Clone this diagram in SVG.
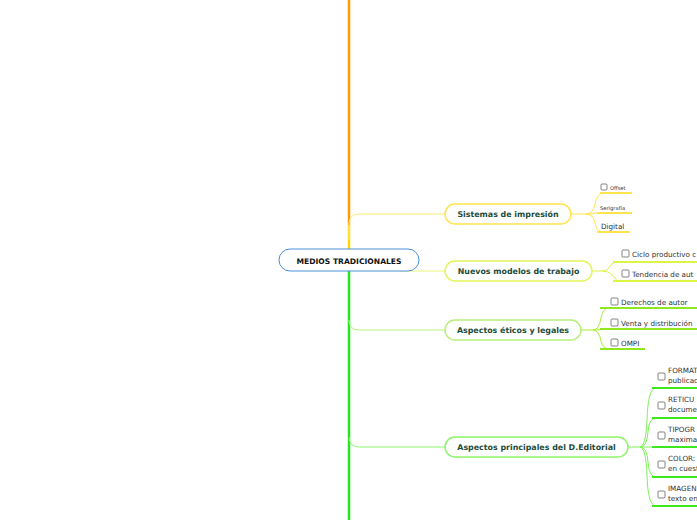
<svg xmlns="http://www.w3.org/2000/svg" width="697" height="520" viewBox="0 0 697 520">
<style>
text{font-family:"DejaVu Sans",Verdana,sans-serif}
.n{font-size:7.9px;font-weight:bold;fill:#1e4d3c;text-anchor:middle}
.c{font-size:7.2px;fill:#333}
.s{font-size:5.2px;fill:#333}
.cb{fill:#fff;stroke:#666;stroke-width:0.8}
.b{fill:#fff;stroke-width:1.5}
</style>
<rect width="697" height="520" fill="#fff"/>
<g id="connectors" fill="none">
<path d="M349 0V225" stroke="#ff9a00" stroke-width="2.5"/>
<path d="M349 225V249" stroke="#ffd700" stroke-width="2.5"/>
<path d="M349 271V520" stroke="#22e61e" stroke-width="2.5"/>
<path d="M349 240V224Q349 214 359 214H445" stroke="#ffe970" stroke-width="1"/>
<path d="M400 271H445" stroke="#eaf57a" stroke-width="1"/>
<path d="M349 320Q349 330 359 330H445" stroke="#b6f07a" stroke-width="1"/>
<path d="M349 437Q349 447 359 447H445" stroke="#8ef56a" stroke-width="1"/>
<g stroke="#ffe34d" stroke-width="1">
<path d="M571 214H586Q593 214 595 204Q597 193 604 193"/>
<path d="M586 214Q593 214 597 213"/>
<path d="M586 214Q593 214 595 223Q597 232 604 232"/>
</g>
<path d="M600 193H632M597 213H632M597 232H630" stroke="#ffe34d" stroke-width="2"/>
<g stroke="#dcf542" stroke-width="1">
<path d="M592 271H602Q608 271 610 266Q612 262 617 262"/>
<path d="M602 271Q612 271 617 281"/>
</g>
<path d="M613 262H697M613 281H697" stroke="#dcf542" stroke-width="2"/>
<g stroke="#a6ef2f" stroke-width="1">
<path d="M581 330H593Q599 330 601 318Q603 308 609 308"/>
<path d="M593 330Q601 330 606 329"/>
<path d="M593 330Q599 330 601 341Q603 349 609 349"/>
</g>
<path d="M600 308H697M600 329H697M600 349H645" stroke="#8fe81e" stroke-width="2"/>
<g stroke="#7ef05a" stroke-width="1">
<path d="M628 447H640Q646 447 647 420Q648 388 656 388"/>
<path d="M640 447Q647 447 648 432Q649 418 656 418"/>
<path d="M640 447H656"/>
<path d="M640 447Q647 447 648 462Q649 477 656 477"/>
<path d="M640 447Q646 447 647 476Q648 506 656 506"/>
</g>
<path d="M652 388H697M652 418H697M652 447H697M652 477H697M652 506H697" stroke="#3ee81e" stroke-width="2"/>
</g>
<g id="central">
<rect x="279" y="249" width="140" height="22" rx="11" fill="#fff" stroke="#4a90d9" stroke-width="1"/>
<text x="349" y="263.5" class="n" style="fill:#111;font-size:7.6px">MEDIOS TRADICIONALES</text>
</g>
<g id="sistemas">
<rect x="445" y="204" width="126" height="20" rx="10" class="b" stroke="#ffe34d"/>
<text x="508" y="217" class="n">Sistemas de impresión</text>
<rect x="601" y="184" width="6" height="6" rx="1" class="cb"/><text x="610" y="189.5" class="s">Offset</text>
<text x="600" y="209.5" class="s">Serigrafía</text>
<text x="601" y="229" class="c">Digital</text>
</g>
<g id="nuevos">
<rect x="445" y="261" width="147" height="20" rx="10" class="b" stroke="#e4f55a"/>
<text x="518.5" y="274" class="n">Nuevos modelos de trabajo</text>
<rect x="622" y="250" width="7" height="7" rx="1" class="cb"/><text x="632" y="257" class="c">Ciclo productivo c</text>
<rect x="622" y="270" width="7" height="7" rx="1" class="cb"/><text x="632" y="277" class="c">Tendencia de aut</text>
</g>
<g id="eticos">
<rect x="445" y="320" width="136" height="20" rx="10" class="b" stroke="#b6f07a"/>
<text x="513" y="333" class="n">Aspectos éticos y legales</text>
<rect x="611" y="298" width="7" height="7" rx="1" class="cb"/><text x="621" y="305" class="c">Derechos de autor</text>
<rect x="611" y="319" width="7" height="7" rx="1" class="cb"/><text x="621" y="326" class="c">Venta y distribución</text>
<rect x="611" y="339" width="7" height="7" rx="1" class="cb"/><text x="621" y="346" class="c">OMPI</text>
</g>
<g id="principales">
<rect x="445" y="437" width="183" height="20" rx="10" class="b" stroke="#8ef56a"/>
<text x="536.5" y="450" class="n">Aspectos principales del D.Editorial</text>
<rect x="658" y="373" width="7" height="7" rx="1" class="cb"/><text x="668" y="373" class="c">FORMAT</text><text x="668" y="383" class="c">publicac</text>
<rect x="658" y="402" width="7" height="7" rx="1" class="cb"/><text x="668" y="402" class="c">RETICU</text><text x="668" y="412" class="c">docume</text>
<rect x="658" y="432" width="7" height="7" rx="1" class="cb"/><text x="668" y="432" class="c">TIPOGR</text><text x="668" y="442" class="c">maxima</text>
<rect x="658" y="461" width="7" height="7" rx="1" class="cb"/><text x="668" y="461" class="c">COLOR:</text><text x="668" y="471" class="c">en cuest</text>
<rect x="658" y="491" width="7" height="7" rx="1" class="cb"/><text x="668" y="491" class="c">IMAGEN</text><text x="668" y="501" class="c">texto en</text>
</g>
</svg>
